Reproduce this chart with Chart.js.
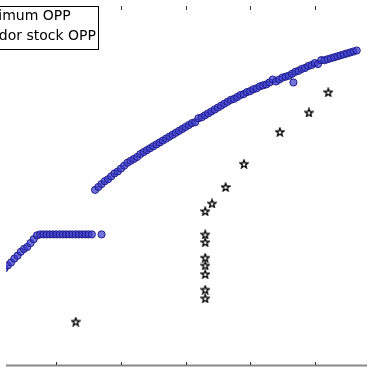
<!DOCTYPE html>
<html>
<head>
<meta charset="utf-8">
<script src="https://cdn.jsdelivr.net/npm/chart.js@4.4.0/dist/chart.umd.min.js"></script>
<style>
  html, body { margin: 0; padding: 0; background: #fff; }
  #chart { display: block; }
</style>
</head>
<body>
<canvas id="chart" width="373" height="373"></canvas>
<script>
// ---- data (arbitrary units) ----
var seriesNames = ['Optimum OPP', 'Vendor stock OPP'];
var xTicks = [20, 40, 60, 80, 100];

// optimum OPP - blue circles
var optX = [4, 5, 6, 7, 8, 9, 10, 11, 12, 13, 14,
  15, 16, 17, 18, 19, 20, 21, 22, 23, 24, 25, 26, 27, 28, 29, 30, 31, 34,
  32, 33, 34, 35, 36, 37, 38, 39, 40, 41, 42, 43, 44, 45, 46, 47, 48, 49, 50, 51,
  52, 53, 54, 55, 56, 57, 58, 59, 60, 61, 62, 63, 64, 65, 66, 67, 68, 69, 70, 71,
  72, 73, 74, 75, 76, 77, 78, 79, 80, 81, 82, 83, 84, 85, 86, 87, 88, 89, 90, 91,
  92, 93, 93.4, 94, 95, 96, 97, 98, 99, 100, 101, 102, 103, 104, 105, 106, 107, 108, 109, 110, 111, 112, 113];
var optY = [100, 103, 106, 110, 113, 117, 120, 122, 126, 130, 134,
  135, 135, 135, 135, 135, 135, 135, 135, 135, 135, 135, 135, 135, 135, 135, 135, 135, 135,
  181, 184, 187, 190, 192, 195, 198, 200, 203, 206, 209, 211, 213, 215, 218, 220, 222, 224, 226, 228,
  230, 232, 234, 236, 238, 240, 242, 244, 246, 248, 250, 251, 255, 256, 258, 260, 262, 264, 266, 268,
  270, 272, 274, 275, 277, 279, 280, 282, 283, 285, 286, 288, 289, 290, 292, 295, 293, 295, 297, 298,
  299, 301, 292, 303, 304, 306, 307, 309, 310, 312, 311, 315, 315, 316, 317, 318, 319, 320, 321, 322, 323, 324, 325];

// vendor stock OPP - black stars
var vendorX = [26.0, 66.1, 66.1, 66.1, 66.1, 66.1, 66.1, 66.1, 66.1, 68.2, 72.4, 78.1, 89.2, 98.2, 104.2];
var vendorY = [45, 69, 78, 94, 103, 111, 127, 135, 159, 167, 184, 208, 241, 261, 282];

function toPoints(xs, ys) {
  return xs.map(function (x, i) { return { x: x, y: ys[i] }; });
}

// pentagram marker (outline)
function starImage(size) {
  var c = document.createElement('canvas');
  c.width = c.height = size;
  var g = c.getContext('2d');
  var cx = size / 2, cy = size / 2 + 0.5, R = size / 2 - 0.8, r = R * 0.42;
  g.beginPath();
  for (var i = 0; i < 10; i++) {
    var a = -Math.PI / 2 + i * Math.PI / 5;
    var rad = i % 2 ? r : R;
    g.lineTo(cx + rad * Math.cos(a), cy + rad * Math.sin(a));
  }
  g.closePath();
  g.lineWidth = 1.3;
  g.strokeStyle = '#000';
  g.stroke();
  return c;
}
var star = starImage(10);

// box axis: bottom line + inward ticks, top ticks
var frame = {
  id: 'frame',
  afterDatasetsDraw: function (chart) {
    var ctx = chart.ctx, a = chart.chartArea, xs = chart.scales.x;
    ctx.save();
    ctx.strokeStyle = '#888';
    ctx.lineWidth = 2;
    ctx.beginPath();
    ctx.moveTo(a.left, a.bottom - 1.5);
    ctx.lineTo(a.right, a.bottom - 1.5);
    ctx.stroke();
    ctx.strokeStyle = '#333';
    ctx.lineWidth = 1;
    xTicks.forEach(function (t) {
      var px = Math.round(xs.getPixelForValue(t)) + 0.5;
      ctx.beginPath();
      ctx.moveTo(px, a.bottom - 2);
      ctx.lineTo(px, a.bottom - 5);
      ctx.moveTo(px, a.top);
      ctx.lineTo(px, a.top + 4);
      ctx.stroke();
    });
    ctx.restore();
  }
};

// legend box in the top left corner, cut by the canvas edge
var legendBox = {
  id: 'legendBox',
  afterDraw: function (chart) {
    var ctx = chart.ctx;
    ctx.save();
    ctx.font = '14px "DejaVu Sans"';
    var x0 = 96 - ctx.measureText(seriesNames[1]).width;
    ctx.fillStyle = '#fff';
    ctx.fillRect(x0 - 40, 6, 98.5 - (x0 - 40), 43);
    ctx.strokeStyle = '#000';
    ctx.lineWidth = 1;
    ctx.strokeRect(x0 - 40 + 0.5, 6.5, 98 - (x0 - 40), 43);
    ctx.fillStyle = '#000';
    ctx.textBaseline = 'middle';
    ctx.fillText(seriesNames[0], x0, 16.5);
    ctx.fillText(seriesNames[1], x0, 36.5);
    ctx.restore();
  }
};

new Chart(document.getElementById('chart'), {
  type: 'scatter',
  data: {
    datasets: [{
      label: seriesNames[0],
      data: toPoints(optX, optY),
      pointStyle: 'circle',
      pointRadius: 3.6,
      backgroundColor: 'rgba(55, 55, 205, 0.7)',
      borderColor: 'rgba(25, 25, 135, 0.95)',
      borderWidth: 1
    }, {
      label: seriesNames[1],
      data: toPoints(vendorX, vendorY),
      pointStyle: star,
      pointRadius: 5
    }]
  },
  options: {
    responsive: false,
    animation: false,
    layout: { padding: 0 },
    plugins: {
      legend: { display: false },
      tooltip: { enabled: false }
    },
    scales: {
      x: { type: 'linear', display: false, min: 4.42, max: 116.18 },
      y: { type: 'linear', display: false, min: -2, max: 371 }
    }
  },
  plugins: [frame, legendBox]
});
</script>
</body>
</html>
